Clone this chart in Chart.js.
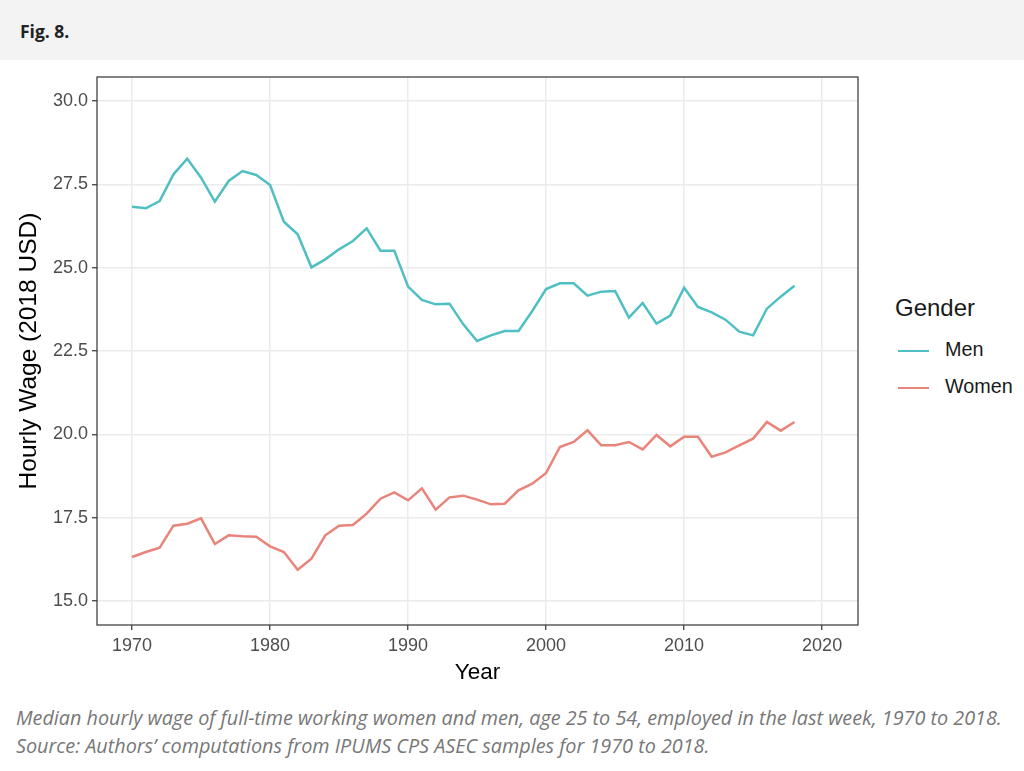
<!DOCTYPE html>
<html>
<head>
<meta charset="utf-8">
<script src="https://cdn.jsdelivr.net/npm/chart.js@4.4.1/dist/chart.umd.min.js"></script>
<style>
  html, body { margin: 0; padding: 0; background: #fff; }
  body { width: 1024px; height: 771px; position: relative; overflow: hidden; }
  .topbar { position: absolute; left: 0; top: 0; width: 1024px; height: 60px; background: #f3f3f3; }
  .topbar span { position: absolute; left: 20px; top: 19px; font: bold 17.5px "Open Sans", sans-serif; color: #222; }
  #wrap { position: absolute; left: 0; top: 60px; width: 880px; height: 630px; }
  .legend { position: absolute; left: 895px; top: 294px; font-family: "Liberation Sans", Arial, sans-serif; color: #1a1a1a; }
  .legend .ttl { font-size: 24px; position: absolute; left: 0; top: 0; white-space: nowrap; }
  .legend .item { position: absolute; left: 3px; white-space: nowrap; font-size: 19.8px; }
  .legend .item i { display: inline-block; width: 31px; height: 2.5px; vertical-align: middle; margin-right: 16px; }
  .caption { position: absolute; left: 16px; top: 704px; font: italic 19.8px/28px "Open Sans", sans-serif; color: #777; white-space: nowrap; }
</style>
</head>
<body>
<div class="topbar"><span>Fig. 8.</span></div>
<div id="wrap"><canvas id="wageChart"></canvas></div>
<div class="legend">
  <div class="ttl">Gender</div>
  <div class="item" style="top:44px"><i style="background:#4fbfc3"></i>Men</div>
  <div class="item" style="top:81px"><i style="background:#e8847a"></i>Women</div>
</div>
<div class="caption">Median hourly wage of full-time working women and men, age 25 to 54, employed in the last week, 1970 to 2018.<br>Source: Authors’ computations from IPUMS CPS ASEC samples for 1970 to 2018.</div>
<script>
const years = [];
for (let y = 1970; y <= 2018; y++) years.push(y);

const menWage = [26.83, 26.78, 27.0, 27.8, 28.27, 27.7, 26.98, 27.6, 27.9, 27.78, 27.48,
  26.38, 26.0, 25.01, 25.25, 25.55, 25.8, 26.18, 25.51, 25.51, 24.43,
  24.03, 23.9, 23.92, 23.3, 22.8, 22.97, 23.1, 23.1, 23.7, 24.36,
  24.53, 24.53, 24.16, 24.28, 24.3, 23.5, 23.94, 23.32, 23.56, 24.4,
  23.82, 23.66, 23.44, 23.08, 22.97, 23.77, 24.13, 24.46];

const womenWage = [16.32, 16.47, 16.6, 17.26, 17.32, 17.48, 16.71, 16.97, 16.94, 16.93, 16.64,
  16.47, 15.94, 16.27, 16.97, 17.26, 17.28, 17.62, 18.07, 18.26, 18.02,
  18.38, 17.74, 18.11, 18.16, 18.04, 17.9, 17.92, 18.32, 18.52, 18.84,
  19.62, 19.77, 20.12, 19.67, 19.67, 19.77, 19.55, 19.98, 19.64, 19.93,
  19.93, 19.33, 19.46, 19.67, 19.87, 20.37, 20.11, 20.37];

const xTicks = [1970, 1980, 1990, 2000, 2010, 2020];
const yTicks = [15, 17.5, 20, 22.5, 25, 27.5, 30];

const toPoints = arr => arr.map((v, i) => ({ x: years[i], y: v }));

// ggplot-style panel border on all four sides
const panelBorder = {
  id: 'panelBorder',
  afterDraw(chart) {
    const a = chart.chartArea, c = chart.ctx;
    c.save();
    c.strokeStyle = '#333';
    c.lineWidth = 1.2;
    c.strokeRect(a.left, a.top, a.right - a.left, a.bottom - a.top);
    c.restore();
  }
};

const tickFont = { family: '"Liberation Sans", Arial, sans-serif', size: 18 };
const fontFam = '"Liberation Sans", Arial, sans-serif';

new Chart(document.getElementById('wageChart'), {
  type: 'line',
  data: {
    datasets: [
      { label: 'Men', data: toPoints(menWage), borderColor: '#4fbfc3', borderWidth: 2.5, pointRadius: 0, tension: 0 },
      { label: 'Women', data: toPoints(womenWage), borderColor: '#e8847a', borderWidth: 2.5, pointRadius: 0, tension: 0 }
    ]
  },
  options: {
    responsive: true,
    maintainAspectRatio: false,
    animation: false,
    layout: { padding: { top: 17, right: 22, left: 0, bottom: 0 } },
    plugins: {
      legend: { display: false },
      tooltip: { enabled: false }
    },
    scales: {
      x: {
        type: 'linear',
        min: 1967.46,
        max: 2022.6,
        afterBuildTicks: axis => { axis.ticks = xTicks.map(v => ({ value: v })); },
        afterFit: axis => { axis.height = 65; },
        border: { display: false },
        grid: { color: '#ebebeb', lineWidth: 1.5, tickColor: '#333', tickLength: 5, tickWidth: 1.2 },
        ticks: { color: '#4d4d4d', font: tickFont, padding: 5, maxRotation: 0, callback: v => String(v) },
        title: { display: true, text: 'Year', color: '#000', font: { family: fontFam, size: 22.5 }, padding: { top: 0, bottom: 4 } }
      },
      y: {
        min: 14.28,
        max: 30.72,
        afterBuildTicks: axis => { axis.ticks = yTicks.map(v => ({ value: v })); },
        afterFit: axis => { axis.width = 97; },
        border: { display: false },
        grid: { color: '#ebebeb', lineWidth: 1.5, tickColor: '#333', tickLength: 5, tickWidth: 1.2 },
        ticks: { color: '#4d4d4d', font: tickFont, padding: 4, callback: v => v.toFixed(1) },
        title: { display: true, text: 'Hourly Wage (2018 USD)', color: '#000', font: { family: fontFam, size: 24.5 }, padding: { top: 15, bottom: 0 } }
      }
    }
  },
  plugins: [panelBorder]
});
</script>
</body>
</html>
